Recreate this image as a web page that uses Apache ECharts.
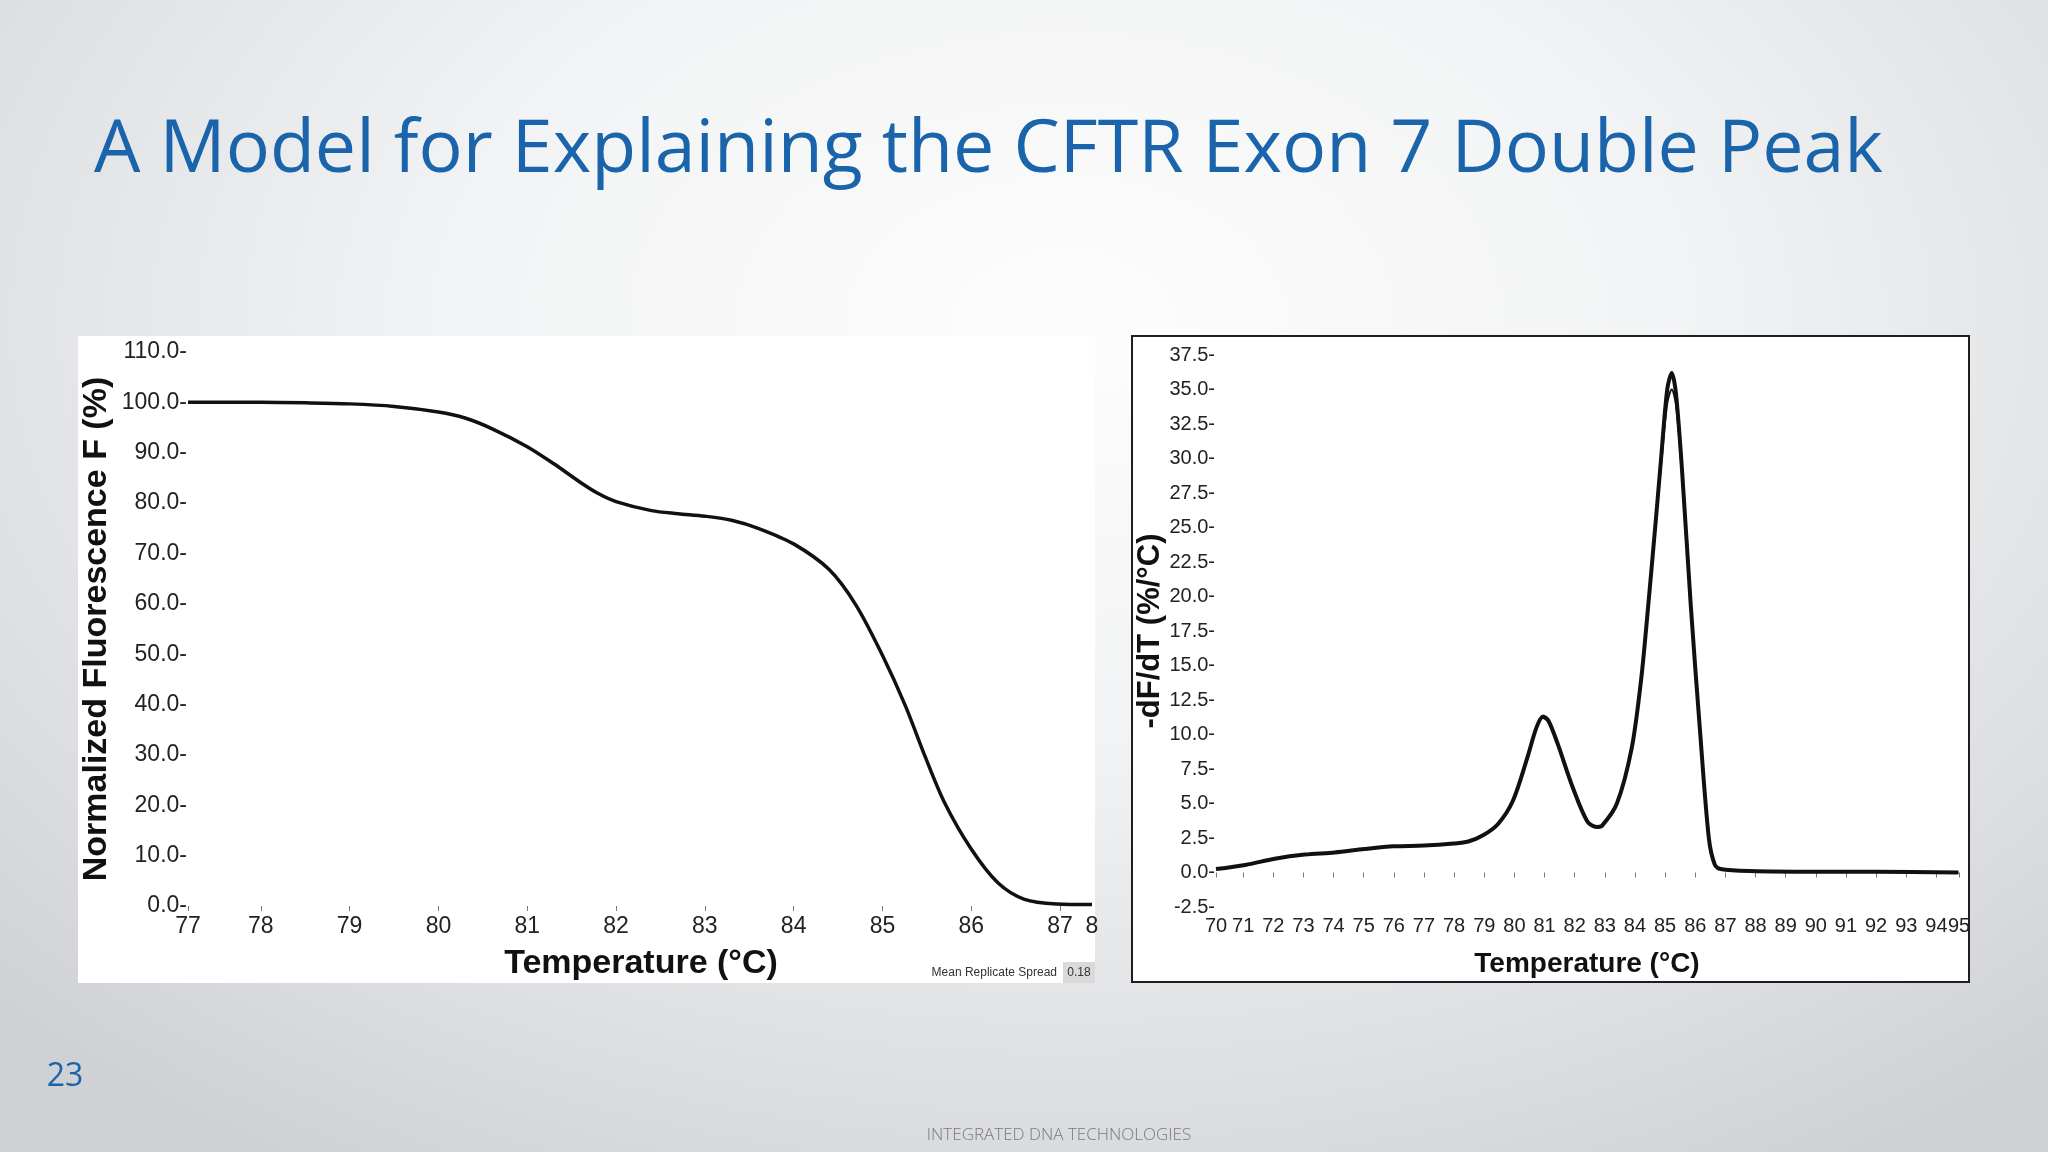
<!DOCTYPE html>
<html>
<head>
<meta charset="utf-8">
<title>CFTR Exon 7 Double Peak</title>
<script src="https://cdn.jsdelivr.net/npm/echarts@6/dist/echarts.min.js"></script>
<style>
  html, body {
    margin: 0;
    padding: 0;
    width: 2048px;
    height: 1152px;
    overflow: hidden;
    background: radial-gradient(ellipse 72% 85% at 52% 28%, #fdfdfd 0%, #f2f3f4 42%, #dcdee1 80%, #cfd1d4 100%);
  }
  #chart { width: 2048px; height: 1152px; }
</style>
</head>
<body>
<div id="chart"></div>
<script>
// melt curve (left panel): temperature in °C, normalized fluorescence in %
const meltTemp = [77.18, 77.6, 78.0, 78.5, 79.0, 79.5, 80.0, 80.3, 80.6, 81.0, 81.3, 81.6, 81.8, 82.0, 82.4, 82.7, 83.0, 83.3, 83.6, 84.0, 84.4, 84.7, 85.0, 85.26, 85.48, 85.7, 86.0, 86.3, 86.6, 86.96, 87.36];
const meltFluor = [100.0, 100.0, 100.0, 99.9, 99.7, 99.2, 98.1, 96.9, 94.8, 91.2, 87.8, 84.1, 81.9, 80.3, 78.5, 77.9, 77.4, 76.6, 75.0, 71.9, 66.8, 59.8, 49.8, 39.7, 29.7, 20.5, 11.3, 4.6, 1.3, 0.4, 0.3];

// derivative curve (right panel): -dF/dT in %/°C, two replicates
const derivTemp = [70.1, 71.07, 72.05, 73.05, 74.04, 75.02, 76.0, 77.0, 77.98, 78.47, 78.96, 79.45, 79.95, 80.44, 80.73, 80.95, 81.13, 81.44, 81.93, 82.42, 82.73, 82.91, 83.4, 83.89, 84.2, 84.38, 84.69, 84.87, 85.07, 85.22, 85.36, 85.56, 85.85, 86.16, 86.45, 86.65, 86.84, 87.82, 90.0, 92.0, 94.73];
const derivRep1 = [0.25, 0.55, 1.0, 1.3, 1.45, 1.7, 1.9, 1.95, 2.1, 2.25, 2.7, 3.5, 5.2, 8.4, 10.5, 11.3, 11.0, 9.3, 6.2, 3.7, 3.3, 3.4, 5.0, 9.0, 13.9, 17.9, 25.5, 30.1, 35.0, 36.2, 34.7, 29.2, 19.4, 10.2, 2.5, 0.55, 0.25, 0.1, 0.05, 0.05, 0.0];
const derivRep2 = [0.25, 0.55, 1.0, 1.3, 1.45, 1.7, 1.9, 1.95, 2.1, 2.25, 2.7, 3.5, 5.2, 8.4, 10.5, 11.2, 10.9, 9.3, 6.2, 3.7, 3.3, 3.4, 5.0, 9.0, 13.9, 17.9, 25.3, 29.6, 34.0, 35.0, 33.9, 28.8, 19.4, 10.2, 2.5, 0.55, 0.25, 0.1, 0.05, 0.05, 0.0];

// axis tick positions and their labels
const meltTickValues = [77.18, 78, 79, 80, 81, 82, 83, 84, 85, 86, 87, 87.36];
const meltTickLabels = ['77', '78', '79', '80', '81', '82', '83', '84', '85', '86', '87', '8'];
const derivTickValues = [70.1, 71, 72, 73, 74, 75, 76, 77, 78, 79, 80, 81, 82, 83, 84, 85, 86, 87, 88, 89, 90, 91, 92, 93, 94, 94.75];
const derivTickLabels = ['70', '71', '72', '73', '74', '75', '76', '77', '78', '79', '80', '81', '82', '83', '84', '85', '86', '87', '88', '89', '90', '91', '92', '93', '94', '95'];

const pageTitle = 'A Model for Explaining the CFTR Exon 7 Double Peak';

const sans = "'Liberation Sans', Arial, sans-serif";

function pairs(xs, ys) {
    return xs.map((x, i) => [x, ys[i]]);
}

let chart = echarts.init(document.getElementById('chart'));

let xAxisBase = {
    type: 'value',
    axisLine: { show: false },
    splitLine: { show: false },
    axisTick: { show: true, length: 5, lineStyle: { color: '#777', width: 1 } },
    axisLabel: {
        color: '#222',
        fontFamily: sans,
        fontSize: 23,
        margin: 9,
        hideOverlap: false,
        showMinLabel: true,
        showMaxLabel: true
    }
};

let yAxisBase = {
    type: 'value',
    axisLine: { show: false },
    splitLine: { show: false },
    axisTick: { show: false },
    axisLabel: {
        color: '#222',
        fontFamily: sans,
        fontSize: 23,
        margin: 1,
        hideOverlap: false,
        showMinLabel: true,
        showMaxLabel: true,
        formatter: function (v) {
            return v.toFixed(1) + '-';
        }
    }
};

let options = {
    animation: false,
    backgroundColor: 'transparent',
    grid: [
        { left: 188, top: 352, width: 904, height: 554 },
        { left: 1216, top: 355, width: 743, height: 552 }
    ],
    xAxis: [
        Object.assign({}, xAxisBase, {
            gridIndex: 0,
            min: meltTickValues[0],
            max: meltTickValues[meltTickValues.length - 1],
            axisTick: Object.assign({}, xAxisBase.axisTick, { customValues: meltTickValues.slice(0, -1) }),
            axisLabel: Object.assign({}, xAxisBase.axisLabel, {
                customValues: meltTickValues,
                formatter: function (v) {
                    let i = meltTickValues.indexOf(v);
                    return i >= 0 ? meltTickLabels[i] : '';
                }
            })
        }),
        Object.assign({}, xAxisBase, {
            gridIndex: 1,
            min: derivTickValues[0],
            max: derivTickValues[derivTickValues.length - 1],
            axisTick: Object.assign({}, xAxisBase.axisTick, { customValues: derivTickValues }),
            axisLabel: Object.assign({}, xAxisBase.axisLabel, {
                fontSize: 20,
                customValues: derivTickValues,
                formatter: function (v) {
                    let i = derivTickValues.indexOf(v);
                    return i >= 0 ? derivTickLabels[i] : '';
                }
            })
        })
    ],
    yAxis: [
        Object.assign({}, yAxisBase, { gridIndex: 0, min: 0, max: 110, interval: 10 }),
        Object.assign({}, yAxisBase, {
            gridIndex: 1, min: -2.5, max: 37.5, interval: 2.5,
            axisLabel: Object.assign({}, yAxisBase.axisLabel, { fontSize: 20 })
        })
    ],
    graphic: [
        // white plot panels
        { type: 'rect', z: -10, shape: { x: 78, y: 336, width: 1017, height: 647 }, style: { fill: '#ffffff' } },
        { type: 'rect', z: -10, shape: { x: 1132, y: 336, width: 837, height: 646 }, style: { fill: '#ffffff', stroke: '#1e1e1e', lineWidth: 2 } },
        // slide title
        { type: 'text', left: 94, top: 114, style: { text: pageTitle, fill: '#1964ab', font: "400 73.5px 'Open Sans', sans-serif" } },
        // axis titles
        { type: 'text', x: 97, y: 629, rotation: Math.PI / 2, style: { text: 'Normalized Fluorescence F (%)', fill: '#111', font: "bold 34px " + sans, align: 'center', verticalAlign: 'middle' } },
        { type: 'text', x: 641, y: 964, style: { text: 'Temperature (°C)', fill: '#111', font: "bold 34px " + sans, align: 'center', verticalAlign: 'middle' } },
        { type: 'text', x: 1150, y: 631, rotation: Math.PI / 2, style: { text: '-dF/dT (%/°C)', fill: '#111', font: "bold 31px " + sans, align: 'center', verticalAlign: 'middle' } },
        { type: 'text', x: 1587, y: 964, style: { text: 'Temperature (°C)', fill: '#111', font: "bold 28px " + sans, align: 'center', verticalAlign: 'middle' } },
        // replicate spread note
        { type: 'text', x: 1057, y: 973, style: { text: 'Mean Replicate Spread', fill: '#333', font: "12px " + sans, align: 'right', verticalAlign: 'middle' } },
        { type: 'rect', shape: { x: 1063, y: 962, width: 32, height: 21 }, style: { fill: '#d9d9d9' } },
        { type: 'text', x: 1079, y: 973, style: { text: '0.18', fill: '#333', font: "12px " + sans, align: 'center', verticalAlign: 'middle' } },
        // slide number and footer
        { type: 'text', x: 65, y: 1077, style: { text: '23', fill: '#1964ab', font: "32px 'Open Sans', sans-serif", align: 'center', verticalAlign: 'middle' } },
        { type: 'text', x: 1059, y: 1135, style: { text: 'INTEGRATED DNA TECHNOLOGIES', fill: '#7a7a7a', font: "300 17px 'Open Sans', sans-serif", align: 'center', verticalAlign: 'middle' } }
    ],
    series: [
        {
            name: 'Normalized Fluorescence',
            type: 'line',
            xAxisIndex: 0,
            yAxisIndex: 0,
            data: pairs(meltTemp, meltFluor),
            smooth: 0.3,
            showSymbol: false,
            lineStyle: { color: '#111', width: 3.5 }
        },
        {
            name: 'Replicate 1',
            type: 'line',
            xAxisIndex: 1,
            yAxisIndex: 1,
            data: pairs(derivTemp, derivRep1),
            smooth: 0.3,
            showSymbol: false,
            lineStyle: { color: '#111', width: 4 }
        },
        {
            name: 'Replicate 2',
            type: 'line',
            xAxisIndex: 1,
            yAxisIndex: 1,
            data: pairs(derivTemp, derivRep2),
            smooth: 0.3,
            showSymbol: false,
            lineStyle: { color: '#111', width: 2 }
        }
    ]
};

chart.setOption(options);

window.addEventListener("resize", () => {
    chart.resize();
});
</script>
</body>
</html>
